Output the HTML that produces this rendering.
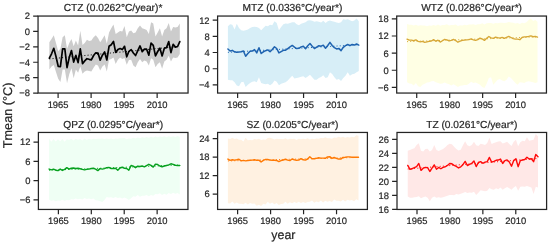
<!DOCTYPE html>
<html lang="en"><head><meta charset="utf-8"><title>Tmean trends by zone</title>
<style>html,body{margin:0;padding:0;background:#fff}svg{display:block}text{font-family:"Liberation Sans",Arial,Helvetica,sans-serif;fill:#262626;stroke:#262626;stroke-width:.2px;text-rendering:geometricPrecision}.t{font-size:10.2px;text-anchor:middle}.k{font-size:9.4px}.ky{text-anchor:end}.kx{text-anchor:middle}.l{font-size:12.7px;text-anchor:middle}.sp{fill:none;stroke:#242424;stroke-width:1.25}.tk{stroke:#242424;stroke-width:1.2;fill:none}</style></head><body>
<svg width="550" height="245" viewBox="0 0 550 245">
<rect width="550" height="245" fill="#fff"/>
<g>
<polygon fill="#cccccc" points="49.35,42.2 51.56,38.9 53.77,35.3 55.98,43 58.19,51.2 60.41,48.7 62.62,37.3 64.83,35.3 67.04,48.7 69.25,43 71.46,38.9 73.67,46.3 75.88,40.5 78.09,45.5 80.3,30.7 82.52,45.1 84.73,43 86.94,39.7 89.15,40.9 91.36,40.5 93.57,37.3 95.78,35.3 97.99,38.1 100.2,42.2 102.41,38.9 104.63,35.3 106.84,43.8 109.05,32.4 111.26,28.3 113.47,24.5 115.68,34 117.89,32.4 120.1,31.1 122.31,31.5 124.52,26.1 126.74,37.3 128.95,31.5 131.16,30.4 133.37,33.2 135.58,32.4 137.79,28.3 140,25.5 142.21,28.3 144.42,29.1 146.63,29.9 148.85,34 151.06,22.2 153.27,23.4 155.48,36.5 157.69,32.4 159.9,28.3 162.11,36.5 164.32,29.9 166.53,28.3 168.74,22.9 170.96,31.5 173.17,27.1 175.38,27.5 177.59,27.1 179.8,23.4 179.8,54 177.59,57.4 175.38,57.9 173.17,57.4 170.96,61.5 168.74,55.7 166.53,59.8 164.32,61.5 162.11,68.8 159.9,62.3 157.69,63.9 155.48,67.2 153.27,59.8 151.06,58.2 148.85,65.5 146.63,61.5 144.42,60.6 142.21,62.3 140,59 137.79,62.3 135.58,67.2 133.37,65.5 131.16,59.8 128.95,60 126.74,64.7 124.52,58 122.31,59 120.1,57.4 117.89,59.8 115.68,63.9 113.47,57.4 111.26,59 109.05,59.8 106.84,71.5 104.63,64.4 102.41,66.6 100.2,70.5 97.99,65.5 95.78,64.4 93.57,67.7 91.36,71.6 89.15,71 86.94,70.5 84.73,71.6 82.52,73.8 80.3,66.6 78.09,72.7 75.88,69.4 73.67,78.2 71.46,68.3 69.25,74.3 67.04,83.2 64.83,69.4 62.62,69.5 60.41,82.1 58.19,78.7 55.98,72.1 53.77,65 51.56,66.5 49.35,69.4"/>
<line x1="49.35" y1="58.92" x2="179.8" y2="46.39" stroke="#000000" stroke-width="1.0" stroke-dasharray="1 2.2" fill="none"/>
<polyline fill="none" stroke="#000000" stroke-width="1.7" stroke-linejoin="round" stroke-linecap="round" points="49.35,58.2 51.56,53.8 53.77,48.3 55.98,56.5 58.19,66.3 60.41,66.6 62.62,48.8 64.83,48.8 67.04,67.6 69.25,57.6 71.46,50.5 73.67,62.1 75.88,55.4 78.09,62.6 80.3,48.8 82.52,63.7 84.73,60.9 86.94,58.7 89.15,59.3 91.36,59.8 93.57,55.5 95.78,52.8 97.99,53.1 100.2,60.2 102.41,55.2 104.63,52 106.84,60 109.05,46.3 111.26,44.7 113.47,41.4 115.68,52.4 117.89,49.6 120.1,48.5 122.31,49.6 124.52,46.3 126.74,56.8 128.95,51.3 131.16,49.6 133.37,53 135.58,55.5 137.79,50.6 140,45.9 142.21,51.6 144.42,49.2 146.63,49.2 148.85,55.2 151.06,43.1 153.27,45.4 155.48,55.9 157.69,51.5 159.9,48.2 162.11,55.9 164.32,48.2 166.53,47.6 168.74,41.6 170.96,52.6 173.17,44.3 175.38,47.1 177.59,46.5 179.8,41.6"/>
<rect class="sp" x="38.05" y="16.05" width="150" height="77"/>
<path class="tk" d="M33.15 16.05h4.9M33.15 31.45h4.9M33.15 46.85h4.9M33.15 62.25h4.9M33.15 77.65h4.9M33.15 93.05h4.9M58.1 93.05v4.9M91.11 93.05v4.9M124.13 93.05v4.9M157.14 93.05v4.9"/>
<text class="k ky" x="30.05" y="19.45">2</text>
<text class="k ky" x="30.05" y="34.85">0</text>
<text class="k ky" x="30.05" y="50.25">−2</text>
<text class="k ky" x="30.05" y="65.65">−4</text>
<text class="k ky" x="30.05" y="81.05">−6</text>
<text class="k ky" x="30.05" y="96.45">−8</text>
<text class="k kx" x="58.1" y="108.05">1965</text>
<text class="k kx" x="91.11" y="108.05">1980</text>
<text class="k kx" x="124.13" y="108.05">1995</text>
<text class="k kx" x="157.14" y="108.05">2010</text>
<text class="t" x="113.05" y="11.15">CTZ (0.0262°C/year)*</text>
</g>
<g>
<polygon fill="#d7eef7" points="227.9,26.27 230.12,24.15 232.34,24.64 234.56,29.55 236.77,23.82 238.99,27.91 241.21,30.37 243.43,30.69 245.65,30.37 247.87,29.55 250.09,27.91 252.31,27.09 254.52,26.77 256.74,27.09 258.96,27.91 261.18,30.37 263.4,27.91 265.62,25.78 267.84,26.27 270.05,24.64 272.27,25.13 274.49,21.36 276.71,23 278.93,30.37 281.15,27.09 283.37,24.15 285.58,23.49 287.8,23.82 290.02,23 292.24,22.18 294.46,22.18 296.68,24.15 298.9,25.13 301.12,23.82 303.33,23 305.55,22.18 307.77,20.55 309.99,20.22 312.21,20.87 314.43,21.86 316.65,21.36 318.86,21.86 321.08,22.51 323.3,20.87 325.52,23 327.74,21.36 329.96,20.55 332.18,21.36 334.39,21.86 336.61,22.51 338.83,23 341.05,22.18 343.27,19.24 345.49,19.73 347.71,19.24 349.93,20.22 352.14,21.36 354.36,20.55 356.58,18.58 358.8,21.36 358.8,71.06 356.58,72.37 354.36,73.68 352.14,74.33 349.93,75.64 347.71,72.37 345.49,75.64 343.27,78.09 341.05,80.88 338.83,78.91 336.61,79.73 334.39,77.28 332.18,74 329.96,72.37 327.74,77.28 325.52,78.09 323.3,75.31 321.08,76.95 318.86,78.09 316.65,79.73 314.43,79.73 312.21,77.28 309.99,74.82 307.77,76.46 305.55,78.09 303.33,76.21 301.12,76.7 298.9,77.44 296.68,77.93 294.46,78.5 292.24,75.64 290.02,78.09 287.8,80.55 285.58,82.19 283.37,83 281.15,83.82 278.93,85.13 276.71,81.86 274.49,80.55 272.27,83.82 270.05,85.13 267.84,83.82 265.62,84.15 263.4,83.82 261.18,83 258.96,77.28 256.74,82.19 254.52,81.37 252.31,81.86 250.09,83 247.87,84.64 245.65,87.1 243.43,81.86 241.21,82.19 238.99,86.28 236.77,85.46 234.56,82.19 232.34,80.22 230.12,80.22 227.9,79.73"/>
<line x1="227.9" y1="52.33" x2="358.8" y2="44.77" stroke="#1f63b0" stroke-width="1.0" stroke-dasharray="1 2.2" fill="none"/>
<polyline fill="none" stroke="#1f63b0" stroke-width="1.5" stroke-linejoin="round" stroke-linecap="round" points="227.9,49.03 230.12,51.01 232.34,50.35 234.56,51.78 236.77,52.33 238.99,52.11 241.21,51.78 243.43,51.01 245.65,56.19 247.87,53.44 250.09,51.23 252.31,51.01 254.52,49.58 256.74,52.88 258.96,47.7 261.18,53.44 263.4,51.78 265.62,50.68 267.84,49.91 270.05,51.78 272.27,49.58 274.49,46.82 276.71,48.51 278.93,52.92 281.15,51.65 283.37,50.33 285.58,50.19 287.8,48.54 290.02,46.88 292.24,45.45 294.46,47.21 296.68,48.54 298.9,48.32 301.12,46.88 303.33,46.33 305.55,48.76 307.77,45.78 309.99,43.58 312.21,46.33 314.43,48.54 316.65,47.09 318.86,45.71 321.08,46.15 323.3,45.16 325.52,48.19 327.74,45.44 329.96,42.4 332.18,45.44 334.39,47.64 336.61,48.95 338.83,48.4 341.05,50.6 343.27,47.29 345.49,45.64 347.71,44.54 349.93,45.64 352.14,44.54 354.36,45.09 356.58,43.99 358.8,45.09"/>
<rect class="sp" x="217.6" y="16.05" width="149.8" height="77"/>
<path class="tk" d="M212.7 20.1h4.9M212.7 36.31h4.9M212.7 52.52h4.9M212.7 68.73h4.9M212.7 84.94h4.9M237.62 93.05v4.9M270.59 93.05v4.9M303.57 93.05v4.9M336.54 93.05v4.9"/>
<text class="k ky" x="209.6" y="23.5">12</text>
<text class="k ky" x="209.6" y="39.71">8</text>
<text class="k ky" x="209.6" y="55.92">4</text>
<text class="k ky" x="209.6" y="72.13">0</text>
<text class="k ky" x="209.6" y="88.34">−4</text>
<text class="k kx" x="237.62" y="108.05">1965</text>
<text class="k kx" x="270.59" y="108.05">1980</text>
<text class="k kx" x="303.57" y="108.05">1995</text>
<text class="k kx" x="336.54" y="108.05">2010</text>
<text class="t" x="292.5" y="11.15">MTZ (0.0336°C/year*)</text>
</g>
<g>
<polygon fill="#ffffe4" points="407.05,23.92 409.26,24.8 411.47,24.64 413.68,25.46 415.89,24.79 418.11,25.73 420.32,25.13 422.53,25.53 424.74,25.57 426.95,26.15 429.16,25.53 431.37,25.67 433.58,25.09 435.79,25.67 438,24.55 440.22,25.84 442.43,24.93 444.64,25.07 446.85,24.32 449.06,25.48 451.27,24.95 453.48,24.89 455.69,24.58 457.9,26.02 460.11,25.17 462.33,25.45 464.54,24.86 466.75,25.13 468.96,24.38 471.17,24.59 473.38,24.22 475.59,25.04 477.8,24.37 480.01,24.29 482.22,23.18 484.44,24.43 486.65,23.33 488.86,22.99 491.07,22.9 493.28,23.86 495.49,22.98 497.7,23.25 499.91,22.77 502.12,22.83 504.33,22.88 506.55,22.8 508.76,21.94 510.97,22.6 513.18,22.65 515.39,23.53 517.6,22.98 519.81,23.93 522.02,22.78 524.23,23.14 526.44,22.13 528.66,19.89 530.87,18.42 533.08,21.01 535.29,20.08 537.5,21.64 537.5,82.19 535.29,83 533.08,82.19 530.87,81.86 528.66,81.37 526.44,81.86 524.23,83 522.02,82.51 519.81,82.19 517.6,84.64 515.39,83 513.18,80.55 510.97,78.09 508.76,76.46 506.55,79.73 504.33,81.37 502.12,80.55 499.91,78.91 497.7,79.73 495.49,82.19 493.28,84.64 491.07,77.28 488.86,78.09 486.65,83.82 484.44,87.91 482.22,87.1 480.01,84.64 477.8,83.5 475.59,82.51 473.38,83 471.17,81.86 468.96,83.82 466.75,84.89 464.54,84.89 462.33,85.46 460.11,85.87 457.9,87.1 455.69,85.46 453.48,84.15 451.27,85.46 449.06,84.15 446.85,83.5 444.64,82.51 442.43,83.5 440.22,83.82 438,83 435.79,82.19 433.58,80.88 431.37,81.37 429.16,82.19 426.95,82.51 424.74,83.82 422.53,84.64 420.32,87.1 418.11,86.28 415.89,83 413.68,85.46 411.47,83.82 409.26,83.5 407.05,82.19"/>
<line x1="407.05" y1="41.63" x2="537.5" y2="36.92" stroke="#d7a838" stroke-width="1.0" stroke-dasharray="1 2.2" fill="none"/>
<polyline fill="none" stroke="#d7a838" stroke-width="1.35" stroke-linejoin="round" stroke-linecap="round" points="407.05,39.09 409.26,40.19 411.47,40.19 413.68,40.74 415.89,39.86 418.11,41.29 420.32,41.85 422.53,41.29 424.74,42.4 426.95,41.85 429.16,41.29 431.37,40.96 433.58,39.64 435.79,41.29 438,40.19 440.22,42.07 442.43,40.74 444.64,39.42 446.85,39.86 449.06,40.96 451.27,40.29 453.48,39.36 455.69,40.57 457.9,42.22 460.11,41.23 462.33,40.46 464.54,40.07 466.75,39.85 468.96,39.63 471.17,38.96 473.38,39.85 475.59,40.4 477.8,39.63 480.01,38.19 482.22,38.96 484.44,40.4 486.65,38.19 488.86,36.54 491.07,37.85 493.28,38.29 495.49,37.18 497.7,37.68 499.91,38.12 502.12,37.4 504.33,38.4 506.55,37.29 508.76,36.47 510.97,37.5 513.18,38.6 515.39,39.15 517.6,39.15 519.81,39.7 522.02,37.5 524.23,36.95 526.44,36.73 528.66,36.4 530.87,35.85 533.08,36.73 535.29,36.4 537.5,37.17"/>
<rect class="sp" x="396.7" y="16.05" width="149.75" height="77"/>
<path class="tk" d="M391.8 18.9h4.9M391.8 36.01h4.9M391.8 53.12h4.9M391.8 70.24h4.9M391.8 87.35h4.9M416.72 93.05v4.9M449.68 93.05v4.9M482.64 93.05v4.9M515.6 93.05v4.9"/>
<text class="k ky" x="388.7" y="22.3">18</text>
<text class="k ky" x="388.7" y="39.41">12</text>
<text class="k ky" x="388.7" y="56.52">6</text>
<text class="k ky" x="388.7" y="73.64">0</text>
<text class="k ky" x="388.7" y="90.75">−6</text>
<text class="k kx" x="416.72" y="108.05">1965</text>
<text class="k kx" x="449.68" y="108.05">1980</text>
<text class="k kx" x="482.64" y="108.05">1995</text>
<text class="k kx" x="515.6" y="108.05">2010</text>
<text class="t" x="471.58" y="11.15">WTZ (0.0286°C/year*)</text>
</g>
<g>
<polygon fill="#effff4" points="49.1,138.44 51.32,141.79 53.53,138.99 55.75,141.58 57.96,139.13 60.18,141.18 62.39,139.08 64.61,141.8 66.82,139.35 69.04,140.06 71.25,138.86 73.47,140.54 75.68,138.8 77.9,139.73 80.11,139.03 82.33,140.39 84.54,138.44 86.76,140.07 88.97,138.67 91.19,139.5 93.41,138.64 95.62,138.88 97.84,138.67 100.05,138.7 102.27,138.55 104.48,138.9 106.7,138.6 108.91,139.1 111.13,138.38 113.34,139.13 115.56,138.5 117.77,138.83 119.99,138.18 122.2,138.34 124.42,137.9 126.63,139.19 128.85,138.56 131.06,138.8 133.28,137.83 135.49,138.44 137.71,137.39 139.93,138.31 142.14,137.27 144.36,137.75 146.57,137.08 148.79,137.69 151,136.65 153.22,137.47 155.43,136.52 157.65,137.18 159.86,136.39 162.08,137.12 164.29,136.3 166.51,137.23 168.72,136.28 170.94,136.95 173.15,136.17 175.37,136.89 177.58,136.08 179.8,137.01 179.8,194.52 177.58,193.05 175.37,193.69 173.15,192.85 170.94,194.06 168.72,193 166.51,194.65 164.29,193.64 162.08,194.88 159.86,193.35 157.65,194.36 155.43,193.91 153.22,195.85 151,194.95 148.79,196.27 146.57,195.12 144.36,195.86 142.14,195.66 139.93,196.87 137.71,195.04 135.49,196.85 133.28,196.22 131.06,198.22 128.85,200.03 126.63,198.4 124.42,197.47 122.2,198.59 119.99,197.52 117.77,198.12 115.56,197.11 113.34,198.09 111.13,197.14 108.91,197.4 106.7,197.12 104.48,200.02 102.27,201.91 100.05,201.31 97.84,200.61 95.62,200.21 93.41,198.48 91.19,199.34 88.97,198.46 86.76,199.01 84.54,198.08 82.33,199.47 80.11,198.65 77.9,199.35 75.68,198.61 73.47,199.57 71.25,199.36 69.04,200.3 66.82,200.05 64.61,200.74 62.39,199.87 60.18,200.81 57.96,200.56 55.75,201.3 53.53,200.26 51.32,200.85 49.1,199.79"/>
<line x1="49.1" y1="170.25" x2="179.8" y2="165.04" stroke="#06a01e" stroke-width="1.0" stroke-dasharray="1 2.2" fill="none"/>
<polyline fill="none" stroke="#06a01e" stroke-width="1.45" stroke-linejoin="round" stroke-linecap="round" points="49.1,169.11 51.32,169.88 53.53,169.11 55.75,170.21 57.96,170.66 60.18,169.11 62.39,170.44 64.61,169.33 66.82,167.68 69.04,169.11 71.25,168.23 73.47,168.01 75.68,168.45 77.9,168.23 80.11,168.78 82.33,169.33 84.54,169.88 86.76,169.33 88.97,169.11 91.19,168.45 93.41,168.27 95.62,169.1 97.84,170.59 100.05,168.66 102.27,169.1 104.48,168.66 106.7,167.66 108.91,167.44 111.13,168.54 113.34,168.54 115.56,168.32 117.77,170.19 119.99,167.99 122.2,167.21 124.42,168.32 126.63,168.54 128.85,170.19 131.06,165.45 133.28,166.16 135.49,167.65 137.71,166.16 139.93,166.44 142.14,166.05 144.36,166.82 146.57,165.61 148.79,164.34 151,165.44 153.22,167.09 155.43,164.11 157.65,164.55 159.86,165.99 162.08,166.76 164.29,165.99 166.51,165.44 168.72,164.88 170.94,163.78 173.15,164.33 175.37,165.21 177.58,165.44 179.8,165.44"/>
<rect class="sp" x="38.4" y="132.45" width="149.55" height="77"/>
<path class="tk" d="M33.5 142.07h4.9M33.5 161.32h4.9M33.5 180.57h4.9M33.5 199.82h4.9M58.39 209.45v4.9M91.31 209.45v4.9M124.22 209.45v4.9M157.14 209.45v4.9"/>
<text class="k ky" x="30.4" y="145.47">12</text>
<text class="k ky" x="30.4" y="164.72">6</text>
<text class="k ky" x="30.4" y="183.97">0</text>
<text class="k ky" x="30.4" y="203.22">−6</text>
<text class="k kx" x="58.39" y="224.45">1965</text>
<text class="k kx" x="91.31" y="224.45">1980</text>
<text class="k kx" x="124.22" y="224.45">1995</text>
<text class="k kx" x="157.14" y="224.45">2010</text>
<text class="t" x="113.17" y="127.55">QPZ (0.0295°C/year*)</text>
</g>
<g>
<polygon fill="#fff1e1" points="227.9,138.5 230.11,138.94 232.33,137.75 234.54,139.04 236.75,138.61 238.97,139.65 241.18,139.82 243.39,141.45 245.61,137.82 247.82,140.21 250.04,140.1 252.25,140.22 254.46,138.91 256.68,139.51 258.89,138.85 261.1,140.08 263.32,139.49 265.53,139.72 267.74,137.98 269.96,137.68 272.17,138.42 274.38,139.53 276.6,138.79 278.81,139.1 281.03,139.09 283.24,139.24 285.45,138.34 287.67,139.44 289.88,138.68 292.09,139.03 294.31,138.75 296.52,140.02 298.73,138.76 300.95,139.35 303.16,138.74 305.37,139.15 307.59,138.13 309.8,139.43 312.02,138.71 314.23,139.15 316.44,138.4 318.66,138.67 320.87,137.94 323.08,138.32 325.3,137.37 327.51,138.23 329.72,138.23 331.94,138.71 334.15,137.5 336.36,137.69 338.58,136.66 340.79,137.44 343.01,136.81 345.22,137.71 347.43,136.93 349.65,137.54 351.86,136.73 354.07,137.33 356.29,135.23 358.5,135.87 358.5,200.51 356.29,199.21 354.07,201.18 351.86,200.09 349.65,200.61 347.43,199.65 345.22,201.39 343.01,199.64 340.79,201.61 338.58,200.74 336.36,200.67 334.15,199.44 331.94,202.1 329.72,201.02 327.51,201.82 325.3,200.83 323.08,202.62 320.87,200.54 318.66,202.35 316.44,201.46 314.23,202.66 312.02,200.57 309.8,201.76 307.59,201.94 305.37,202.89 303.16,201.92 300.95,202.98 298.73,201.67 296.52,202.95 294.31,202.01 292.09,203.29 289.88,202.22 287.67,203.75 285.45,201.75 283.24,203.81 281.03,204.03 278.81,204.91 276.6,203.12 274.38,204.23 272.17,202.59 269.96,203.84 267.74,201.79 265.53,204.59 263.32,203.79 261.1,205.97 258.89,204.8 256.68,205.71 254.46,203.46 252.25,203.75 250.04,202.93 247.82,204.42 245.61,202.84 243.39,204.2 241.18,203.64 238.97,203.86 236.75,202.51 234.54,203.72 232.33,201.62 230.11,203.41 227.9,203.25"/>
<line x1="227.9" y1="160.95" x2="358.5" y2="157.42" stroke="#ff7a05" stroke-width="1.0" stroke-dasharray="1 2.2" fill="none"/>
<polyline fill="none" stroke="#ff7a05" stroke-width="1.45" stroke-linejoin="round" stroke-linecap="round" points="227.9,159.01 230.11,160.33 232.33,159.78 234.54,160.11 236.75,159.78 238.97,159.23 241.18,160.88 243.39,160.33 245.61,160.88 247.82,160.55 250.04,160.33 252.25,160.11 254.46,159.78 256.68,160.33 258.89,160.11 261.1,161.99 263.32,160.33 265.53,159.45 267.74,159.45 269.96,160.11 272.17,160.33 274.38,160.33 276.6,160.44 278.81,161.55 281.03,160.55 283.24,159.95 285.45,159.23 287.67,160.11 289.88,160.55 292.09,159.01 294.31,159.78 296.52,160.33 298.73,160.11 300.95,158.68 303.16,159.78 305.37,160.11 307.59,159.01 309.8,156.8 312.02,158.68 314.23,158.68 316.44,158.33 318.66,157.78 320.87,158.11 323.08,158.11 325.3,158.33 327.51,156.95 329.72,156.68 331.94,158.44 334.15,157.51 336.36,158.32 338.58,159.09 340.79,159.09 343.01,157.44 345.22,157.21 347.43,156.88 349.65,156.88 351.86,157.21 354.07,157.21 356.29,157.21 358.5,157.21"/>
<rect class="sp" x="217.6" y="132.45" width="149.8" height="77"/>
<path class="tk" d="M212.7 138.61h4.9M212.7 157.09h4.9M212.7 175.57h4.9M212.7 194.05h4.9M237.62 209.45v4.9M270.59 209.45v4.9M303.57 209.45v4.9M336.54 209.45v4.9"/>
<text class="k ky" x="209.6" y="142.01">24</text>
<text class="k ky" x="209.6" y="160.49">18</text>
<text class="k ky" x="209.6" y="178.97">12</text>
<text class="k ky" x="209.6" y="197.45">6</text>
<text class="k kx" x="237.62" y="224.45">1965</text>
<text class="k kx" x="270.59" y="224.45">1980</text>
<text class="k kx" x="303.57" y="224.45">1995</text>
<text class="k kx" x="336.54" y="224.45">2010</text>
<text class="t" x="292.5" y="127.55">SZ (0.0205°C/year*)</text>
</g>
<g>
<polygon fill="#ffe8e7" points="407.75,150.73 409.96,149.91 412.17,149.09 414.37,148.27 416.58,145 418.79,143.36 421,150.73 423.2,151.55 425.41,149.09 427.62,148.77 429.83,151.55 432.03,149.91 434.24,145 436.45,149.91 438.66,151.06 440.86,149.91 443.07,149.09 445.28,147.13 447.49,145 449.69,143.86 451.9,144.18 454.11,146.64 456.32,149.09 458.53,150.4 460.73,149.78 462.94,145.27 465.15,141.18 467.36,145.27 469.56,146.26 471.77,145.03 473.98,141.76 476.19,145.27 478.39,145.93 480.6,143.64 482.81,144.29 485.02,145.03 487.22,143.09 489.43,137.86 491.64,143.91 493.85,143.09 496.06,142.27 498.26,141.46 500.47,141.13 502.68,143.42 504.89,142.77 507.09,141.78 509.3,143.91 511.51,146.04 513.72,141.78 515.92,139.82 518.13,146.37 520.34,142.27 522.55,140.64 524.75,141.13 526.96,137.36 529.17,140.64 531.38,140.15 533.58,139.82 535.79,134.09 538,136.55 538,187.55 535.79,186.73 533.58,194.09 531.38,187.55 529.17,186.73 526.96,185.91 524.75,186.73 522.55,186.4 520.34,186.73 518.13,190.82 515.92,185.91 513.72,187.55 511.51,189.68 509.3,188.37 507.09,187.06 504.89,188.37 502.68,189.68 500.47,187.55 498.26,189.18 496.06,188.37 493.85,189.68 491.64,189.18 489.43,188.04 487.22,190.82 485.02,191.31 482.81,190.82 480.6,190.17 478.39,192.7 476.19,194.91 473.98,191.64 471.77,192.7 469.56,192.46 467.36,192.95 465.15,191.97 462.94,193.11 460.73,193.85 458.53,194.59 456.32,194.09 454.11,195.24 451.9,194.91 449.69,194.91 447.49,195.73 445.28,196.55 443.07,197.37 440.86,197.86 438.66,197.37 436.45,197.86 434.24,196.55 432.03,197.86 429.83,201.13 427.62,197.86 425.41,196.55 423.2,197.37 421,198.19 418.79,196.22 416.58,196.88 414.37,197.37 412.17,197.86 409.96,197.86 407.75,196.55"/>
<line x1="407.75" y1="168.99" x2="538" y2="158.44" stroke="#ff0a0a" stroke-width="1.0" stroke-dasharray="1 2.2" fill="none"/>
<polyline fill="none" stroke="#ff0a0a" stroke-width="1.4" stroke-linejoin="round" stroke-linecap="round" points="407.75,165.44 409.96,169.29 412.17,168.74 414.37,167.64 416.58,166.54 418.79,163.45 421,170.4 423.2,168.19 425.41,167.42 427.62,167.64 429.83,171.5 432.03,168.19 434.24,164.88 436.45,169.29 438.66,167.42 440.86,168.74 443.07,167.42 445.28,166.76 447.49,165.44 449.69,163.45 451.9,163.81 454.11,165.3 456.32,166.46 458.53,167.95 460.73,166.85 462.94,164.64 465.15,161.42 467.36,165.5 469.56,164.4 471.77,163.29 473.98,161.09 476.19,166.6 478.39,162.52 480.6,161.64 482.81,163.29 485.02,162.19 487.22,161.64 489.43,157.45 491.64,162.11 493.85,161.29 496.06,160.29 498.26,160.07 500.47,159.08 502.68,163.44 504.89,160.68 507.09,159.91 509.3,161.95 511.51,166.22 513.72,160.6 515.92,158.73 518.13,166.67 520.34,160.6 522.55,160.05 524.75,159.5 526.96,157.29 529.17,158.95 531.38,158.73 533.58,161.7 535.79,154.54 538,156.74"/>
<rect class="sp" x="397" y="132.45" width="149.6" height="77"/>
<path class="tk" d="M392.1 139.45h4.9M392.1 153.45h4.9M392.1 167.45h4.9M392.1 181.45h4.9M392.1 195.45h4.9M392.1 209.45h4.9M417 209.45v4.9M449.92 209.45v4.9M482.85 209.45v4.9M515.78 209.45v4.9"/>
<text class="k ky" x="389" y="142.85">26</text>
<text class="k ky" x="389" y="156.85">24</text>
<text class="k ky" x="389" y="170.85">22</text>
<text class="k ky" x="389" y="184.85">20</text>
<text class="k ky" x="389" y="198.85">18</text>
<text class="k ky" x="389" y="212.85">16</text>
<text class="k kx" x="417" y="224.45">1965</text>
<text class="k kx" x="449.92" y="224.45">1980</text>
<text class="k kx" x="482.85" y="224.45">1995</text>
<text class="k kx" x="515.78" y="224.45">2010</text>
<text class="t" x="471.8" y="127.55">TZ (0.0261°C/year*)</text>
</g>
<text class="l" transform="translate(12,115.4) rotate(-90)">Tmean (°C)</text>
<text class="l" style="font-size:12.4px" x="283.4" y="239.1">year</text>
</svg></body></html>
